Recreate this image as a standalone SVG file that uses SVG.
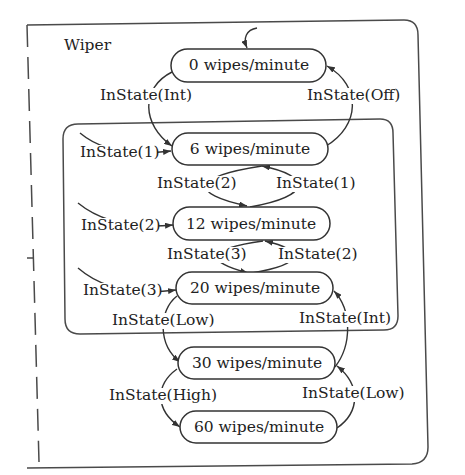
<svg xmlns="http://www.w3.org/2000/svg" width="465" height="475" viewBox="0 0 465 475">
<defs>
<style>
.frame{fill:none;stroke:#4a4a4a;stroke-width:1.5}
.node rect{fill:#fff;stroke:#333;stroke-width:1.5}
.node text{font-family:"DejaVu Serif","Liberation Serif",serif;font-size:15.5px;fill:#222;text-anchor:middle}
.lbl{font-family:"DejaVu Serif","Liberation Serif",serif;font-size:15.5px;fill:#222}
.bg{fill:#fff}
.edge{fill:none;stroke:#333;stroke-width:1.4}
</style>
<marker id="ah" viewBox="0 0 8 6" refX="8" refY="3" markerWidth="8" markerHeight="6" markerUnits="userSpaceOnUse" orient="auto">
<path d="M0,0 L8,3 L0,6 z" fill="#333"/>
</marker>
</defs>
<rect width="465" height="475" fill="#fff"/>

<g id="wiper-frame">
<path class="frame" d="M27,25 L404,20 Q418,20 418,35 L428,447 Q428,463 412,464 L27,468"/>
<path class="frame" d="M27,25 L39,462" stroke-dasharray="22 10"/>
<path class="frame" d="M27,258 L34,258"/>
<text class="lbl" x="64" y="50">Wiper</text>
</g>

<g id="inner-frame">
<path class="frame" d="M78,124 L380,119 Q393,119 393,133 L398,316 Q398,330 384,330 L80,334 Q65,334 65,319 L63,139 Q63,124 78,124 Z"/>
</g>

<g id="connectors">
<path class="edge" d="M257,28 C246,30 243,38 247,48" marker-end="url(#ah)"/>
<path class="edge" d="M172,72 C140,88 142,125 172,146" marker-end="url(#ah)"/>
<path class="edge" d="M326,146 C360,126 362,86 327,66" marker-end="url(#ah)"/>
<path class="edge" d="M80,133 C100,150 130,156 171,151" marker-end="url(#ah)"/>
<path class="edge" d="M78,203 C100,221 130,229 173,225" marker-end="url(#ah)"/>
<path class="edge" d="M78,268 C100,287 130,296 176,290" marker-end="url(#ah)"/>
<path class="edge" d="M262,166 C190,177 190,194 247,206" marker-end="url(#ah)"/>
<path class="edge" d="M250,207 C312,196 312,176 262,166" marker-end="url(#ah)"/>
<path class="edge" d="M263,241 C205,249 205,262 248,273" marker-end="url(#ah)"/>
<path class="edge" d="M252,273 C305,264 305,250 265,241" marker-end="url(#ah)"/>
<path class="edge" d="M177,296 C158,311 158,345 180,362" marker-end="url(#ah)"/>
<path class="edge" d="M335,367 C352,345 352,310 334,291" marker-end="url(#ah)"/>
<path class="edge" d="M177,369 C155,385 155,410 180,427" marker-end="url(#ah)"/>
<path class="edge" d="M337,428 C360,412 361,385 337,366" marker-end="url(#ah)"/>
</g>

<g id="labels">
<rect class="bg" x="98" y="88" width="97" height="16"/>
<text class="lbl" x="100" y="100">InState(Int)</text>
<rect class="bg" x="305" y="88" width="100" height="16"/>
<text class="lbl" x="307" y="100">InState(Off)</text>
<rect class="bg" x="78" y="145" width="79" height="16"/>
<text class="lbl" x="80" y="157">InState(1)</text>
<rect class="bg" x="155" y="176" width="80" height="16"/>
<text class="lbl" x="157" y="188">InState(2)</text>
<rect class="bg" x="274" y="176" width="80" height="16"/>
<text class="lbl" x="276" y="188">InState(1)</text>
<rect class="bg" x="79" y="218" width="80" height="16"/>
<text class="lbl" x="81" y="230">InState(2)</text>
<rect class="bg" x="165" y="247" width="80" height="16"/>
<text class="lbl" x="167" y="259">InState(3)</text>
<rect class="bg" x="276" y="247" width="80" height="16"/>
<text class="lbl" x="278" y="259">InState(2)</text>
<rect class="bg" x="81" y="283" width="80" height="16"/>
<text class="lbl" x="83" y="295" fill="#4a4a4a">InState(3)</text>
<rect class="bg" x="110" y="313" width="107" height="16"/>
<text class="lbl" x="112" y="325">InState(Low)</text>
<rect class="bg" x="297" y="311" width="96" height="16"/>
<text class="lbl" x="299" y="323">InState(Int)</text>
<rect class="bg" x="107" y="388" width="112" height="16"/>
<text class="lbl" x="109" y="400">InState(High)</text>
<rect class="bg" x="300" y="386" width="106" height="16"/>
<text class="lbl" x="302" y="398">InState(Low)</text>
</g>

<g id="n0" class="node"><rect x="171" y="49" width="155" height="33" rx="16.5"/><text x="249" y="70">0 wipes/minute</text></g>
<g id="n6" class="node"><rect x="172" y="133" width="156" height="32" rx="16"/><text x="250" y="154">6 wipes/minute</text></g>
<g id="n12" class="node"><rect x="173" y="207" width="157" height="33" rx="16.5"/><text x="251" y="229">12 wipes/minute</text></g>
<g id="n20" class="node"><rect x="176" y="272" width="157" height="32" rx="16"/><text x="255" y="293">20 wipes/minute</text></g>
<g id="n30" class="node"><rect x="178" y="347" width="157" height="32" rx="16"/><text x="257" y="368">30 wipes/minute</text></g>
<g id="n60" class="node"><rect x="180" y="411" width="157" height="32" rx="16"/><text x="259" y="432">60 wipes/minute</text></g>
</svg>
